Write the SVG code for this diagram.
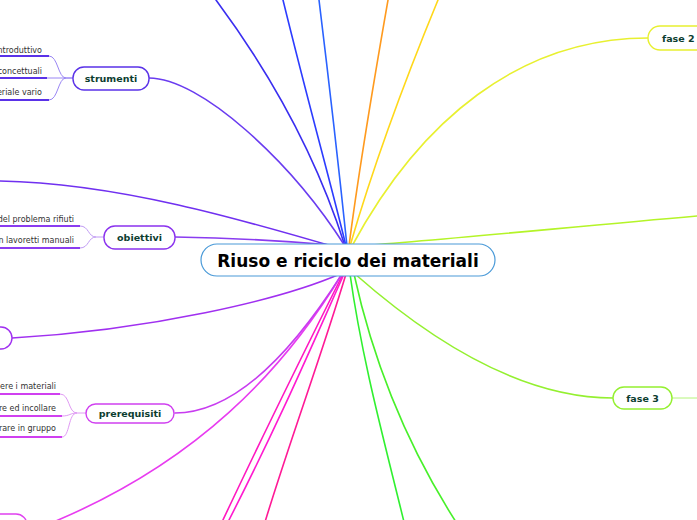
<svg xmlns="http://www.w3.org/2000/svg" width="697" height="520" viewBox="0 0 697 520">
<style>
.c{fill:none;stroke-width:1.6;stroke-linecap:round}
.t{fill:none;stroke-width:1;}
.u{fill:none;stroke-width:2.2}
.n{fill:#fff;stroke-width:1.4}
.lbl{font-family:"DejaVu Sans",Verdana,sans-serif;font-weight:bold;font-size:9.5px;fill:#0c3d30;text-anchor:middle}
.leaf{font-family:"DejaVu Sans",Verdana,sans-serif;font-size:8px;fill:#333;text-anchor:end}
</style>
<rect width="697" height="520" fill="#fff"/>
<g id="connectors">
<path class="c" stroke="#3a2ef0" d="M345,246 Q305,120 216,0"/>
<path class="c" stroke="#2c3cff" d="M346,246 C330,180 310,110 283,0"/>
<path class="c" stroke="#2a62ff" d="M347,246 C338,160 330,90 319,0"/>
<path class="c" stroke="#ff9a1e" d="M349,246 C360,160 374,80 388,0"/>
<path class="c" stroke="#ffd81a" d="M350,246 C375,160 405,80 438,0"/>
<path class="c" stroke="#e8f030" d="M352,246 C420,120 520,38 648,38"/>
<path class="c" stroke="#b4f428" d="M355,246 C420,242 560,228 697,216"/>
<path class="c" stroke="#94f030" d="M355,274 C430,340 520,398 613,398"/>
<path class="t" stroke="#b4f47a" d="M672,398 L697,398"/>
<path class="c" stroke="#30f030" d="M350,274 C362,360 384,440 404,522"/>
<path class="c" stroke="#48f02a" d="M354,274 C375,370 410,450 456,522"/>
<path class="c" stroke="#ff1a96" d="M346,274 C320,360 290,440 265,522"/>
<path class="c" stroke="#ff1ad0" d="M344,274 C310,350 280,420 228,522"/>
<path class="c" stroke="#ff18c0" d="M343,274 C305,350 270,420 222,522"/>
<path class="c" stroke="#e83cf0" d="M342,274 C290,360 200,470 20,535"/>
<path class="c" stroke="#c83cf0" d="M342,274 C300,340 240,413 175,413"/>
<path class="c" stroke="#a030f0" d="M340,274 C280,300 150,330 12,338"/>
<path class="c" stroke="#8a3cf0" d="M175,237 C240,238 300,242 345,246"/>
<path class="c" stroke="#7030f0" d="M345,250 C250,222 120,183 0,181"/>
<path class="c" stroke="#6a3cf0" d="M149,78 C200,78 290,160 345,246"/>
<path class="t" stroke="#9a86f4" d="M49,56 C58,56 58,78 66,78 L73,78"/>
<path class="t" stroke="#9a86f4" d="M47,78 L73,78"/>
<path class="t" stroke="#9a86f4" d="M49,100 C58,100 58,78 66,78"/>
<path class="u" stroke="#5a32e8" d="M0,56 L49,56"/>
<path class="u" stroke="#5a32e8" d="M0,78 L47,78"/>
<path class="u" stroke="#5a32e8" d="M0,100 L49,100"/>
<path class="t" stroke="#c09af4" d="M80,226 C89,226 88,237 96,237 L104,237"/>
<path class="t" stroke="#c09af4" d="M80,248 C89,248 88,237 96,237"/>
<path class="u" stroke="#8a3cf0" d="M0,226 L80,226"/>
<path class="u" stroke="#8a3cf0" d="M0,248 L80,248"/>
<path class="t" stroke="#e09af4" d="M60,394 C70,394 68,413 77,413 L86,413"/>
<path class="t" stroke="#e09af4" d="M62,416 C70,416 70,413 77,413"/>
<path class="t" stroke="#e09af4" d="M62,437 C70,437 68,413 77,413"/>
<path class="u" stroke="#d040f0" d="M0,394 L60,394"/>
<path class="u" stroke="#d040f0" d="M0,416 L62,416"/>
<path class="u" stroke="#d040f0" d="M0,437 L62,437"/>
</g>
<g id="leaves">
<text class="leaf" x="42" y="52.5">ntroduttivo</text>
<text class="leaf" x="42" y="74">concettuali</text>
<text class="leaf" x="42" y="95">eriale vario</text>
<text class="leaf" x="74" y="222">del problema rifiuti</text>
<text class="leaf" x="74" y="243">n lavoretti manuali</text>
<text class="leaf" x="56" y="389">ere i materiali</text>
<text class="leaf" x="56" y="410.5">re ed incollare</text>
<text class="leaf" x="56" y="431">rare in gruppo</text>
</g>
<g id="central">
<rect x="201" y="244" width="294" height="32" rx="16" fill="#fff" stroke="#4a9ad8" stroke-width="1.2"/>
<text x="348" y="267" font-family="DejaVu Sans,Verdana,sans-serif" font-weight="bold" font-size="17" text-anchor="middle" fill="#000">Riuso e riciclo dei materiali</text>
</g>
<g id="strumenti">
<rect class="n" x="73" y="67" width="76" height="23" rx="11" stroke="#5a32e8"/>
<text class="lbl" x="111" y="82">strumenti</text>
</g>
<g id="obiettivi">
<rect class="n" x="104" y="226" width="71" height="23" rx="11" stroke="#8a32ee"/>
<text class="lbl" x="139.5" y="241">obiettivi</text>
</g>
<g id="node-left">
<rect class="n" x="-60" y="327" width="72" height="22" rx="11" stroke="#a030f0"/>
</g>
<g id="prerequisiti">
<rect class="n" x="86" y="404" width="88" height="19" rx="9.5" stroke="#d040f0"/>
<text class="lbl" x="130" y="417">prerequisiti</text>
</g>
<g id="node-bottom-left">
<rect class="n" x="-60" y="514" width="87" height="24" rx="11" stroke="#e040f0"/>
</g>
<g id="fase2">
<rect class="n" x="648" y="26" width="80" height="24" rx="12" stroke="#e8f030"/>
<text class="lbl" x="662" y="42" style="text-anchor:start">fase 2</text>
</g>
<g id="fase3">
<rect class="n" x="613" y="387" width="59" height="22" rx="11" stroke="#94f030"/>
<text class="lbl" x="642.5" y="402">fase 3</text>
</g>
</svg>
